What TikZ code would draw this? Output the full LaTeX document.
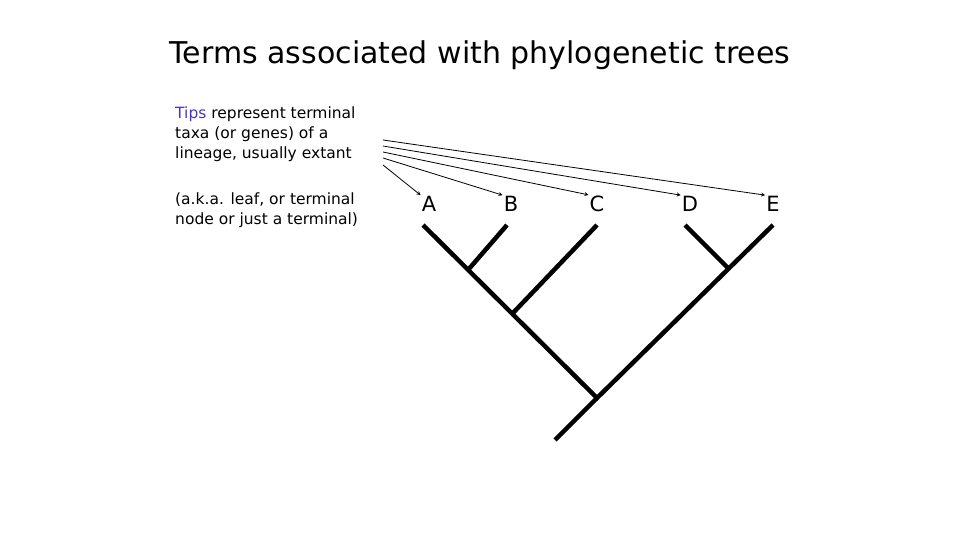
\documentclass[tikz,border=0pt]{standalone}
\usepackage{fontspec}
\setmainfont{DejaVu Sans}
\begin{document}
\begin{tikzpicture}[x=1pt,y=-1pt,
  br/.style={line width=4.5pt,line cap=butt},
  ar/.style={-stealth,line width=0.8pt},
  tip/.style={font=\fontsize{21}{24}\selectfont,inner sep=1pt},
  txt/.style={font=\fontsize{15.5}{20}\selectfont,align=left,anchor=north west,inner sep=0pt}]
\useasboundingbox (0,0) rectangle (960,540);
\node (title) at (480,55) {\fontsize{30}{34}\selectfont Terms associated with phylogenetic trees};
\node[txt] (t1) at (175,107) {\textcolor[RGB]{80,50,200}{Tips} represent terminal\\taxa (or genes) of a\\lineage, usually extant};
\node[txt] (t2) at (175,193) {(a.k.a. leaf, or terminal\\node or just a terminal)};
\node[tip] (A) at (429,204) {A};
\node[tip] (B) at (511,204) {B};
\node[tip] (C) at (597,204) {C};
\node[tip] (D) at (690,204) {D};
\node[tip] (E) at (773,204) {E};
\coordinate (s1) at (383,140);
\coordinate (s2) at (383,146);
\coordinate (s3) at (383,152);
\coordinate (s4) at (383,158);
\coordinate (s5) at (383,165);
\draw[ar] (s1) -- (E.north west);
\draw[ar] (s2) -- (D.north west);
\draw[ar] (s3) -- (C.north west);
\draw[ar] (s4) -- (B.north west);
\draw[ar] (s5) -- (A.north west);
\coordinate (a) at (423,225);
\coordinate (r) at (597,398);
\coordinate (e) at (773,225);
\coordinate (root) at (555,440);
\coordinate (b) at (507,225);
\coordinate (bj) at (468,270);
\coordinate (c) at (597,225);
\coordinate (cj) at (512,314);
\coordinate (d) at (685,225);
\coordinate (dj) at (729,269);
\draw[br] (a) -- (r) -- (e);
\draw[br] (r) -- (root);
\draw[br] (b) -- (bj);
\draw[br] (c) -- (cj);
\draw[br] (d) -- (dj);
\end{tikzpicture}
\end{document}
